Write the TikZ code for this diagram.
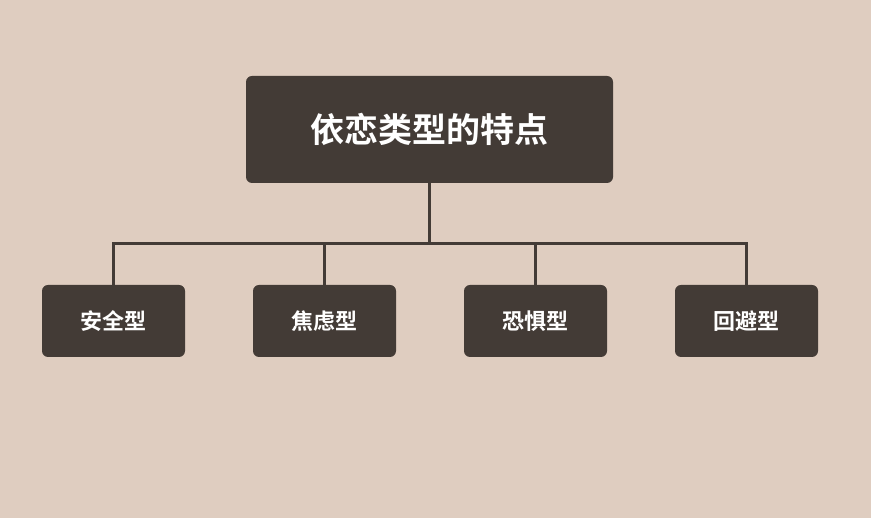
\documentclass[tikz,border=0pt]{standalone}
\usepackage{fontspec}
\newfontfamily\cjk{Noto Sans CJK SC Bold}
\usetikzlibrary{positioning}
\definecolor{bgtan}{HTML}{DFCDC0}
\definecolor{boxbrown}{HTML}{433B36}
\tikzset{
  rootbox/.style = {fill=boxbrown, rounded corners=6pt, text=white, minimum width=367pt, minimum height=107pt, font=\cjk\fontsize{34}{40}\selectfont},
  kindbox/.style = {fill=boxbrown, rounded corners=6pt, text=white, minimum width=143pt, minimum height=72pt, font=\cjk\fontsize{22}{26}\selectfont},
  link/.style = {draw=boxbrown, line width=3pt}
}
\begin{document}
\begin{tikzpicture}[x=1pt, y=1pt]
  \fill[bgtan] (0, 0) rectangle (871, 518);
  \useasboundingbox (0, 0) rectangle (871, 518);

  \node [rootbox] (root) at (429.5, 388.5) {依恋类型的特点};

  \node [kindbox] (secure) at (113.5, 197) {安全型};
  \node [kindbox] (anxious) at (324.5, 197) {焦虑型};
  \node [kindbox] (fearful) at (535.5, 197) {恐惧型};
  \node [kindbox] (avoidant) at (746.5, 197) {回避型};

  \coordinate (bus) at (429.5, 274);
  \draw [link] (root.south) -- (bus);
  \draw [link] (secure.north) |- (bus) -| (avoidant.north);
  \foreach \k in {anxious, fearful} {
    \draw [link] (\k.north) -- (\k.north |- bus);
  }
\end{tikzpicture}
\end{document}
